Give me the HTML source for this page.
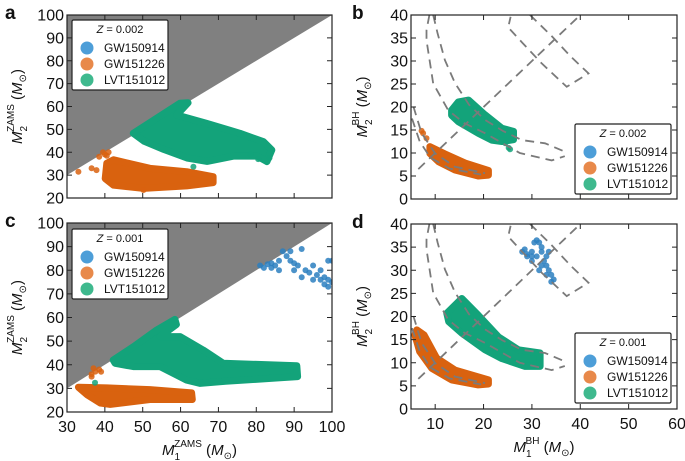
<!DOCTYPE html>
<html><head><meta charset="utf-8">
<style>
html,body{margin:0;padding:0;background:#fff;}
svg{display:block;font-family:"Liberation Sans","DejaVu Sans",sans-serif;}
</style></head>
<body>
<svg id="fig" width="685" height="461" viewBox="0 0 685 461" xmlns="http://www.w3.org/2000/svg"></svg>
<script>
// ---------- DATA ----------
const aGreenOutline = [[47.5,48.3],[59.8,61.4],[62.0,61.6],[59.0,56.3],[66.9,52.6],[75.7,48.3],[81.9,44.6],[84.1,41.0],[82.8,35.9],[80.2,38.3],[74.1,38.3],[67.0,36.0],[61.7,37.5],[55.6,41.2],[50.4,44.8]];
const aGreenPoints = [[63.4,33.7],[80.5,37.0],[83.5,37.5],[78.5,39.0]];
const aOrangeOutline = [[40.5,35.2],[42.3,36.7],[51.9,33.0],[61.6,31.5],[68.6,29.3],[68.6,26.7],[61.6,25.3],[50.2,24.2],[42.3,25.6],[40.1,28.5]];
const aOrangePoints = [[40,39],[41,40],[38.5,38],[39.5,40],[40.5,38.5],[33,31.5],[36.5,33],[37.8,32.2],[50.2,23.5]];
const cGreenOutline = [[42.2,42.0],[47.5,47.6],[53.7,54.7],[58.5,59.2],[58.9,57.0],[54.6,51.9],[59.9,51.9],[66.0,46.2],[71.3,40.6],[90.7,39.6],[90.9,35.0],[71.9,33.0],[65.1,32.1],[61.6,33.5],[54.6,39.2],[47.5,39.2],[42.7,40.6]];
const cGreenPoints = [[37.4,32.4]];
const cOrangeOutline = [[33.0,30.5],[40.5,30.2],[51.9,29.5],[62.9,28.1],[63.1,25.3],[51.9,25.3],[41.4,23.2],[38.8,23.8],[35.3,27.3]];
const cOrangePoints = [[37.5,37.1],[36.5,36],[38.5,38],[37,38.5],[39,37],[36.5,35]];
const cBluePoints = [[81,82],[82,81],[83,82.5],[84,83],[85,82],[86,84],[87,88],[88,86],[89,84],[90,83],[91,82],[92,89],[93,80],[94,79],[95,82],[96,78],[97,76],[98,74],[99,73],[100,75],[97,80],[99,84],[100,84],[89,88],[92,77],[95,76],[86,80],[84,81],[90,80],[98,77],[99,76]];
const bGreenOutline = [[13.4,19.3],[14.8,21.1],[16.9,21.5],[20.3,18.3],[23.8,15.4],[26.2,14.7],[26.2,12.9],[23.8,12.5],[21.7,12.8],[18.9,14.3],[14.8,16.8],[13.4,18.2]];
const bGreenPoints = [[24.5,12.1],[25.2,11.1],[25.5,10.8]];
const bOrangeOutline = [[8.9,11.4],[12.0,9.8],[16.2,7.8],[21.0,6.2],[21.0,5.2],[18.9,5.0],[14.1,6.3],[10.7,8.1],[8.9,9.9]];
const bOrangePoints = [[7.5,14.3],[8.2,13.2],[7.2,14.8]];
const dGreenOutline = [[12.4,20.7],[15.5,23.9],[18.9,20.3],[23.1,15.6],[27.2,12.8],[31.7,12.1],[31.7,9.2],[28.6,9.2],[23.8,10.9],[20.3,12.8],[15.5,16.4],[12.8,18.9]];
const dGreenPoints = [[24.5,13.5],[26.9,13.1]];
const dOrangeOutline = [[6.2,17.1],[7.7,16.0],[10.3,11.0],[14.1,8.4],[21.0,6.3],[21.0,5.4],[18.9,5.2],[13.4,6.3],[9.3,8.8],[6.8,12.4],[5.8,16.0]];
const dOrangePoints = [];
const dBluePoints = [[28,34],[29,33.5],[30,34],[30.5,36],[31,36.5],[31.5,36],[32,35],[31,33],[32.5,32],[33,31],[33.5,30],[34,29],[34.5,28],[33,33],[32,31],[30,32],[31.5,30],[33,29],[34,27.5],[29,33],[32,34],[33.5,34],[30,33],[28.5,34.5]];
const contourLvtOuter = [[9.6,40],[10.5,36],[12.0,30.2],[14.1,25.2],[17,20.5],[20.3,17.2],[24,14.8],[27.9,12.8],[32.7,12.1],[36.8,10.3]];
const contourLvtInner = [[8.8,40],[8.2,36.7],[8.2,34.5],[9.6,25.1],[12.7,19.3],[16,16.5],[20.3,14.3],[27.5,10.0],[34.1,8.4],[36.8,9.3]];
const contourGw151226Upper = [[5.5,20.1],[7.2,14.3],[10.0,9.9],[14.1,7.0],[20.3,5.6]];
const contourGw151226Lower = [[5.2,17.5],[6.8,12.5],[9.0,9.0],[13.0,6.6],[19.5,5.3]];
const contourGw150914 = [[29.6,40],[34,35.5],[38,31],[41.7,27.3],[37.2,24.4],[32,29.5],[28,34],[25.1,37.3],[25.6,39.6]];
const contourEqualMass = [[6.5,6.5],[40,40]];
const zamsXTicks = [30,40,50,60,70,80,90,100];
const zamsYTicks = [20,30,40,50,60,70,80,90,100];
const bhXTicks = [10,20,30,40,50,60];
const bhYTicks = [0,5,10,15,20,25,30,35,40];
const legendNames = ["GW150914","GW151226","LVT151012"];

// ---------- DRAWING ----------
const NS="http://www.w3.org/2000/svg";
const svg=document.getElementById('fig');
const COL={blue:"#2b7fc0",orange:"#d9620f",green:"#13a37a"};
const LCOL=["#4d9ed8","#e8894a","#3fb98e"];
function mk(tag,attrs,parent){const e=document.createElementNS(NS,tag);for(const k in attrs)e.setAttribute(k,attrs[k]);(parent||svg).appendChild(e);return e;}

function panel(cfg){
  const g=mk('g',{});
  
  
  const sx=v=>cfg.L+(v-cfg.x0)/(cfg.x1-cfg.x0)*(cfg.R-cfg.L);
  const sy=v=>cfg.B-(v-cfg.y0)/(cfg.y1-cfg.y0)*(cfg.B-cfg.T);
  const clipId='clip-'+cfg.name;
  const cp=mk('clipPath',{id:clipId},g);
  mk('rect',{x:cfg.L,y:cfg.T,width:cfg.R-cfg.L,height:cfg.B-cfg.T},cp);
  const plot=mk('g',{'clip-path':'url(#'+clipId+')'},g);
  if(cfg.forbidden){
    const tri=mk('polygon',{points:[[cfg.x0,cfg.x0],[cfg.x1,cfg.x1],[cfg.x0,cfg.y1]].map(p=>sx(p[0])+','+sy(p[1])).join(' '),fill:'#808080'},plot);
    
    
  }
  function blob(outline,color,nm){
    const p=mk('polygon',{points:outline.map(q=>sx(q[0]).toFixed(1)+','+sy(q[1]).toFixed(1)).join(' '),fill:color,stroke:color,'stroke-width':7,'stroke-linejoin':'round'},plot);
    
    
  }
  function pts(list,color,nm){
    list.forEach(q=>{
      const c=mk('circle',{cx:sx(q[0]).toFixed(1),cy:sy(q[1]).toFixed(1),r:3,fill:color,'fill-opacity':0.85},plot);
      
      
    });
  }
  (cfg.series||[]).forEach(s=>{ if(s.outline) blob(s.outline,s.color,s.nm+'-region'); pts(s.points,s.color,s.nm+'-point'); });
  (cfg.contours||[]).forEach(c=>{
    const pl=mk('polyline',{points:c.map(q=>sx(q[0]).toFixed(1)+','+sy(q[1]).toFixed(1)).join(' '),fill:'none',stroke:'#7a7a7a','stroke-width':1.8,'stroke-dasharray':'9,6'},plot);
    
    
  });
  const fr=mk('rect',{x:cfg.L,y:cfg.T,width:cfg.R-cfg.L,height:cfg.B-cfg.T,fill:'none',stroke:'#222','stroke-width':1.2},g);
  
  
  cfg.xt.forEach(v=>{
    const X=sx(v);
    mk('line',{x1:X,x2:X,y1:cfg.B,y2:cfg.B-5,stroke:'#222','stroke-width':1},g);
    mk('line',{x1:X,x2:X,y1:cfg.T,y2:cfg.T+5,stroke:'#222','stroke-width':1},g);
    if(cfg.xlabels){
      const t=mk('text',{x:X,y:cfg.B+20,'font-size':16,'text-anchor':'middle',fill:'#111'},g);
      t.textContent=v;
      
      
    }
  });
  cfg.yt.forEach(v=>{
    const Y=sy(v);
    mk('line',{x1:cfg.L,x2:cfg.L+5,y1:Y,y2:Y,stroke:'#222','stroke-width':1},g);
    mk('line',{x1:cfg.R,x2:cfg.R-5,y1:Y,y2:Y,stroke:'#222','stroke-width':1},g);
    const t=mk('text',{x:cfg.L-3,y:Y+5.5,'font-size':16,'text-anchor':'end',fill:'#111'},g);
    t.textContent=v;
    
    
  });
  const lt=mk('text',{x:cfg.letterX,y:cfg.T+4,'font-size':19,'font-weight':'bold',fill:'#111'},g);
  lt.textContent=cfg.letter;
  
  
  const yt=mk('text',{transform:'translate('+cfg.ytX+','+((cfg.T+cfg.B)/2)+') rotate(-90)','font-size':15,'text-anchor':'middle',fill:'#111'},g);
  yt.innerHTML='<tspan font-style="italic">M</tspan><tspan font-size="10" dy="5">2</tspan><tspan font-size="10" dy="-13" dx="-6">'+cfg.sup+'</tspan><tspan dy="8"> (</tspan><tspan font-style="italic">M</tspan><tspan font-size="10" dy="4">⊙</tspan><tspan dy="-4">)</tspan>';
  
  
  if(cfg.xtitle){
    const xt=mk('text',{x:(cfg.L+cfg.R)/2,y:cfg.B+43,'font-size':15,'text-anchor':'middle',fill:'#111'},g);
    xt.innerHTML='<tspan font-style="italic">M</tspan><tspan font-size="10" dy="5">1</tspan><tspan font-size="10" dy="-13" dx="-6">'+cfg.sup+'</tspan><tspan dy="8"> (</tspan><tspan font-style="italic">M</tspan><tspan font-size="10" dy="4">⊙</tspan><tspan dy="-4">)</tspan>';
    
    
  }
  const lg=mk('g',{},g);
  
  
  const lx=cfg.legX, ly=cfg.legY;
  mk('rect',{x:lx,y:ly,width:96,height:70,fill:'#fff',stroke:'#222','stroke-width':1.2,rx:1.5},lg);
  const tt=mk('text',{x:lx+48,y:ly+13,'font-size':11,'text-anchor':'middle',fill:'#111'},lg);
  tt.innerHTML='<tspan font-style="italic">Z</tspan> = '+cfg.z;
  
  
  legendNames.forEach((n,i)=>{
    const e=mk('g',{},lg);
    
    
    mk('circle',{cx:lx+15,cy:ly+28+i*16,r:6.5,fill:LCOL[i]},e);
    const t=mk('text',{x:lx+32,y:ly+32+i*16,'font-size':12,fill:'#111'},e);
    t.textContent=n;
  });
}

panel({name:'panel-a',letter:'a',letterX:5,L:67,R:332,T:15,B:198,x0:30,x1:100,y0:20,y1:100,xt:zamsXTicks,yt:zamsYTicks,xlabels:false,forbidden:true,sup:'ZAMS',ytX:22,legX:72,legY:20,z:'0.002',
  series:[{outline:aOrangeOutline,points:aOrangePoints,color:COL.orange,nm:'gw151226'},{outline:aGreenOutline,points:aGreenPoints,color:COL.green,nm:'lvt151012'}]});
panel({name:'panel-c',letter:'c',letterX:5,L:67,R:332,T:223,B:412,x0:30,x1:100,y0:20,y1:100,xt:zamsXTicks,yt:zamsYTicks,xlabels:true,xtitle:true,forbidden:true,sup:'ZAMS',ytX:22,legX:72,legY:229,z:'0.001',
  series:[{outline:cOrangeOutline,points:cOrangePoints,color:COL.orange,nm:'gw151226'},{outline:cGreenOutline,points:cGreenPoints,color:COL.green,nm:'lvt151012'},{outline:null,points:cBluePoints,color:COL.blue,nm:'gw150914'}]});
const contours=[contourLvtOuter,contourLvtInner,contourGw151226Upper,contourGw151226Lower,contourGw150914,contourEqualMass];
panel({name:'panel-b',letter:'b',letterX:352,L:411,R:677,T:15,B:199,x0:5,x1:60,y0:0,y1:40,xt:bhXTicks,yt:bhYTicks,xlabels:false,sup:'BH',ytX:367,legX:575,legY:124,z:'0.002',
  series:[{outline:bOrangeOutline,points:bOrangePoints,color:COL.orange,nm:'gw151226'},{outline:bGreenOutline,points:bGreenPoints,color:COL.green,nm:'lvt151012'}],contours:contours});
panel({name:'panel-d',letter:'d',letterX:352,L:411,R:677,T:224,B:409,x0:5,x1:60,y0:0,y1:40,xt:bhXTicks,yt:bhYTicks,xlabels:true,xtitle:true,sup:'BH',ytX:367,legX:575,legY:333,z:'0.001',
  series:[{outline:dOrangeOutline,points:dOrangePoints,color:COL.orange,nm:'gw151226'},{outline:dGreenOutline,points:dGreenPoints,color:COL.green,nm:'lvt151012'},{outline:null,points:dBluePoints,color:COL.blue,nm:'gw150914'}],contours:contours});
</script>
</body></html>
